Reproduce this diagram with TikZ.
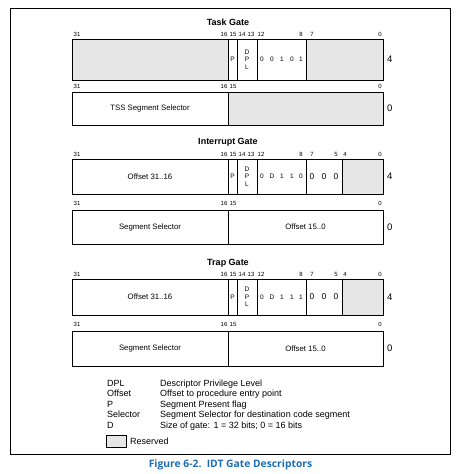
\documentclass[tikz,border=0pt]{standalone}
\usepackage{fontspec}
\setmainfont{Liberation Sans}
\newfontfamily\capfont{Open Sans}
\definecolor{resgray}{HTML}{E6E6E6}
\definecolor{capblue}{HTML}{1C6DB4}

\begin{document}
\begin{tikzpicture}[x=1pt, y=-1pt,
        field/.style={draw=black, line width=0.9pt},
        gatetitle/.style={font=\fontsize{9}{10}\selectfont\bfseries},
        bitnum/.style={font=\fontsize{6}{6}\selectfont, inner sep=0pt},
        boxtext/.style={font=\fontsize{7.8}{9}\selectfont, inner sep=0pt},
        typebit/.style={font=\fontsize{6.5}{7}\selectfont, inner sep=0pt},
        dpl/.style={font=\fontsize{6.5}{7.5}\selectfont, align=center, inner sep=0pt},
        offset/.style={font=\fontsize{9.5}{10}\selectfont, anchor=west, inner sep=0pt},
        legend/.style={font=\fontsize{9}{10}\selectfont, anchor=base west, inner sep=0pt}]
        \useasboundingbox (0,0) rectangle (459,474);
        \draw[line width=0.9pt] (10,8) rectangle (450,454);
        % task gate
        \node[gatetitle] (tasktitle) at (228,22) {Task Gate};
        \foreach \x/\b in {77/31, 224/16, 233/15, 242/14, 251/13, 261/12, 301/8, 312/7, 380/0}
            \node[bitnum] (taskbit\b) at (\x,34) {\b};
        \fill[resgray] (72,39) rectangle (228,80);
        \fill[resgray] (306,39) rectangle (383,80);
        \draw[field] (72,39) rectangle (383,80);
        \foreach \x in {228,237,257,306}
            \draw[field] (\x,39) -- (\x,80);
        \node[typebit] (taskp) at (232.5,59.5) {P};
        \node[dpl] (taskdpl) at (247,59.5) {D\\P\\L};
        \foreach \x/\v [count=\i] in {262/0, 272/0, 282/1, 292/0, 301/1}
            \node[typebit] (tasktype\i) at (\x,59.5) {\v};
        \node[offset] (taskoff4) at (387,59.5) {4};
        \foreach \x/\b in {77/31, 224/16, 233/15, 380/0}
            \node[bitnum] (tasklow\b) at (\x,86) {\b};
        \fill[resgray] (228,92) rectangle (383,125);
        \draw[field] (72,92) rectangle (383,125);
        \draw[field] (228,92) -- (228,125);
        \node[boxtext] (tsssel) at (150,108.5) {TSS Segment Selector};
        \node[offset] (taskoff0) at (387,108.5) {0};
        % interrupt gate
        \node[gatetitle] (inttitle) at (228,142) {Interrupt Gate};
        \foreach \x/\b in {77/31, 224/16, 233/15, 242/14, 251/13, 261/12, 301/8, 312/7, 336/5, 345/4, 380/0}
            \node[bitnum] (intbit\b) at (\x,154) {\b};
        \fill[resgray] (342,159) rectangle (383,194);
        \draw[field] (72,159) rectangle (383,194);
        \foreach \x in {228,237,257,306,342}
            \draw[field] (\x,159) -- (\x,194);
        \node[boxtext] (inthigh) at (150,176.5) {Offset 31..16};
        \node[typebit] (intp) at (232.5,176.5) {P};
        \node[dpl] (intdpl) at (247,176.5) {D\\P\\L};
        \foreach \x/\v [count=\i] in {262/0, 272/D, 282/1, 292/1, 301/0}
            \node[typebit] (inttype\i) at (\x,176.5) {\v};
        \foreach \x [count=\i] in {312,324,336}
            \node[boxtext, font=\fontsize{8.5}{9}\selectfont] (intzero\i) at (\x,176.5) {0};
        \node[offset] (intoff4) at (387,176.5) {4};
        \foreach \x/\b in {77/31, 224/16, 233/15, 380/0}
            \node[bitnum] (intlow\b) at (\x,203) {\b};
        \draw[field] (72,210) rectangle (383,244);
        \draw[field] (228,210) -- (228,244);
        \node[boxtext] (intsel) at (150,227) {Segment Selector};
        \node[boxtext] (intlow) at (305.5,227) {Offset 15..0};
        \node[offset] (intoff0) at (387,227) {0};
        % trap gate
        \node[gatetitle] (traptitle) at (228,263) {Trap Gate};
        \foreach \x/\b in {77/31, 224/16, 233/15, 242/14, 251/13, 261/12, 301/8, 312/7, 336/5, 345/4, 380/0}
            \node[bitnum] (trapbit\b) at (\x,274) {\b};
        \fill[resgray] (342,279) rectangle (383,315);
        \draw[field] (72,279) rectangle (383,315);
        \foreach \x in {228,237,257,306,342}
            \draw[field] (\x,279) -- (\x,315);
        \node[boxtext] (traphigh) at (150,297) {Offset 31..16};
        \node[typebit] (trapp) at (232.5,297) {P};
        \node[dpl] (trapdpl) at (247,297) {D\\P\\L};
        \foreach \x/\v [count=\i] in {262/0, 272/D, 282/1, 292/1, 301/1}
            \node[typebit] (traptype\i) at (\x,297) {\v};
        \foreach \x [count=\i] in {312,324,336}
            \node[boxtext, font=\fontsize{8.5}{9}\selectfont] (trapzero\i) at (\x,297) {0};
        \node[offset] (trapoff4) at (387,297) {4};
        \foreach \x/\b in {77/31, 224/16, 233/15, 380/0}
            \node[bitnum] (traplow\b) at (\x,324) {\b};
        \draw[field] (72,331) rectangle (383,366);
        \draw[field] (228,331) -- (228,366);
        \node[boxtext] (trapsel) at (150,348.5) {Segment Selector};
        \node[boxtext] (traplow) at (305.5,348.5) {Offset 15..0};
        \node[offset] (trapoff0) at (387,348.5) {0};
        % legend
        \foreach \k/\t [count=\i] in {DPL/Descriptor Privilege Level, Offset/Offset to procedure entry point, P/Segment Present flag, Selector/Segment Selector for destination code segment, D/{Size of gate: 1 = 32 bits; 0 = 16 bits}} {
            \node[legend] (key\i) at (107,375.5+10.5*\i) {\k};
            \node[legend] (meaning\i) at (160,375.5+10.5*\i) {\t};
        }
        \draw[line width=0.6pt, fill=resgray] (106,435) rectangle (126,447);
        \node[legend] (reserved) at (130,444.5) {Reserved};
        % caption
        \node[font=\capfont\fontsize{10.3}{12}\selectfont\bfseries, text=capblue] (caption) at (230.5,465) {Figure 6-2.\ \ IDT Gate Descriptors};
\end{tikzpicture}
\end{document}
